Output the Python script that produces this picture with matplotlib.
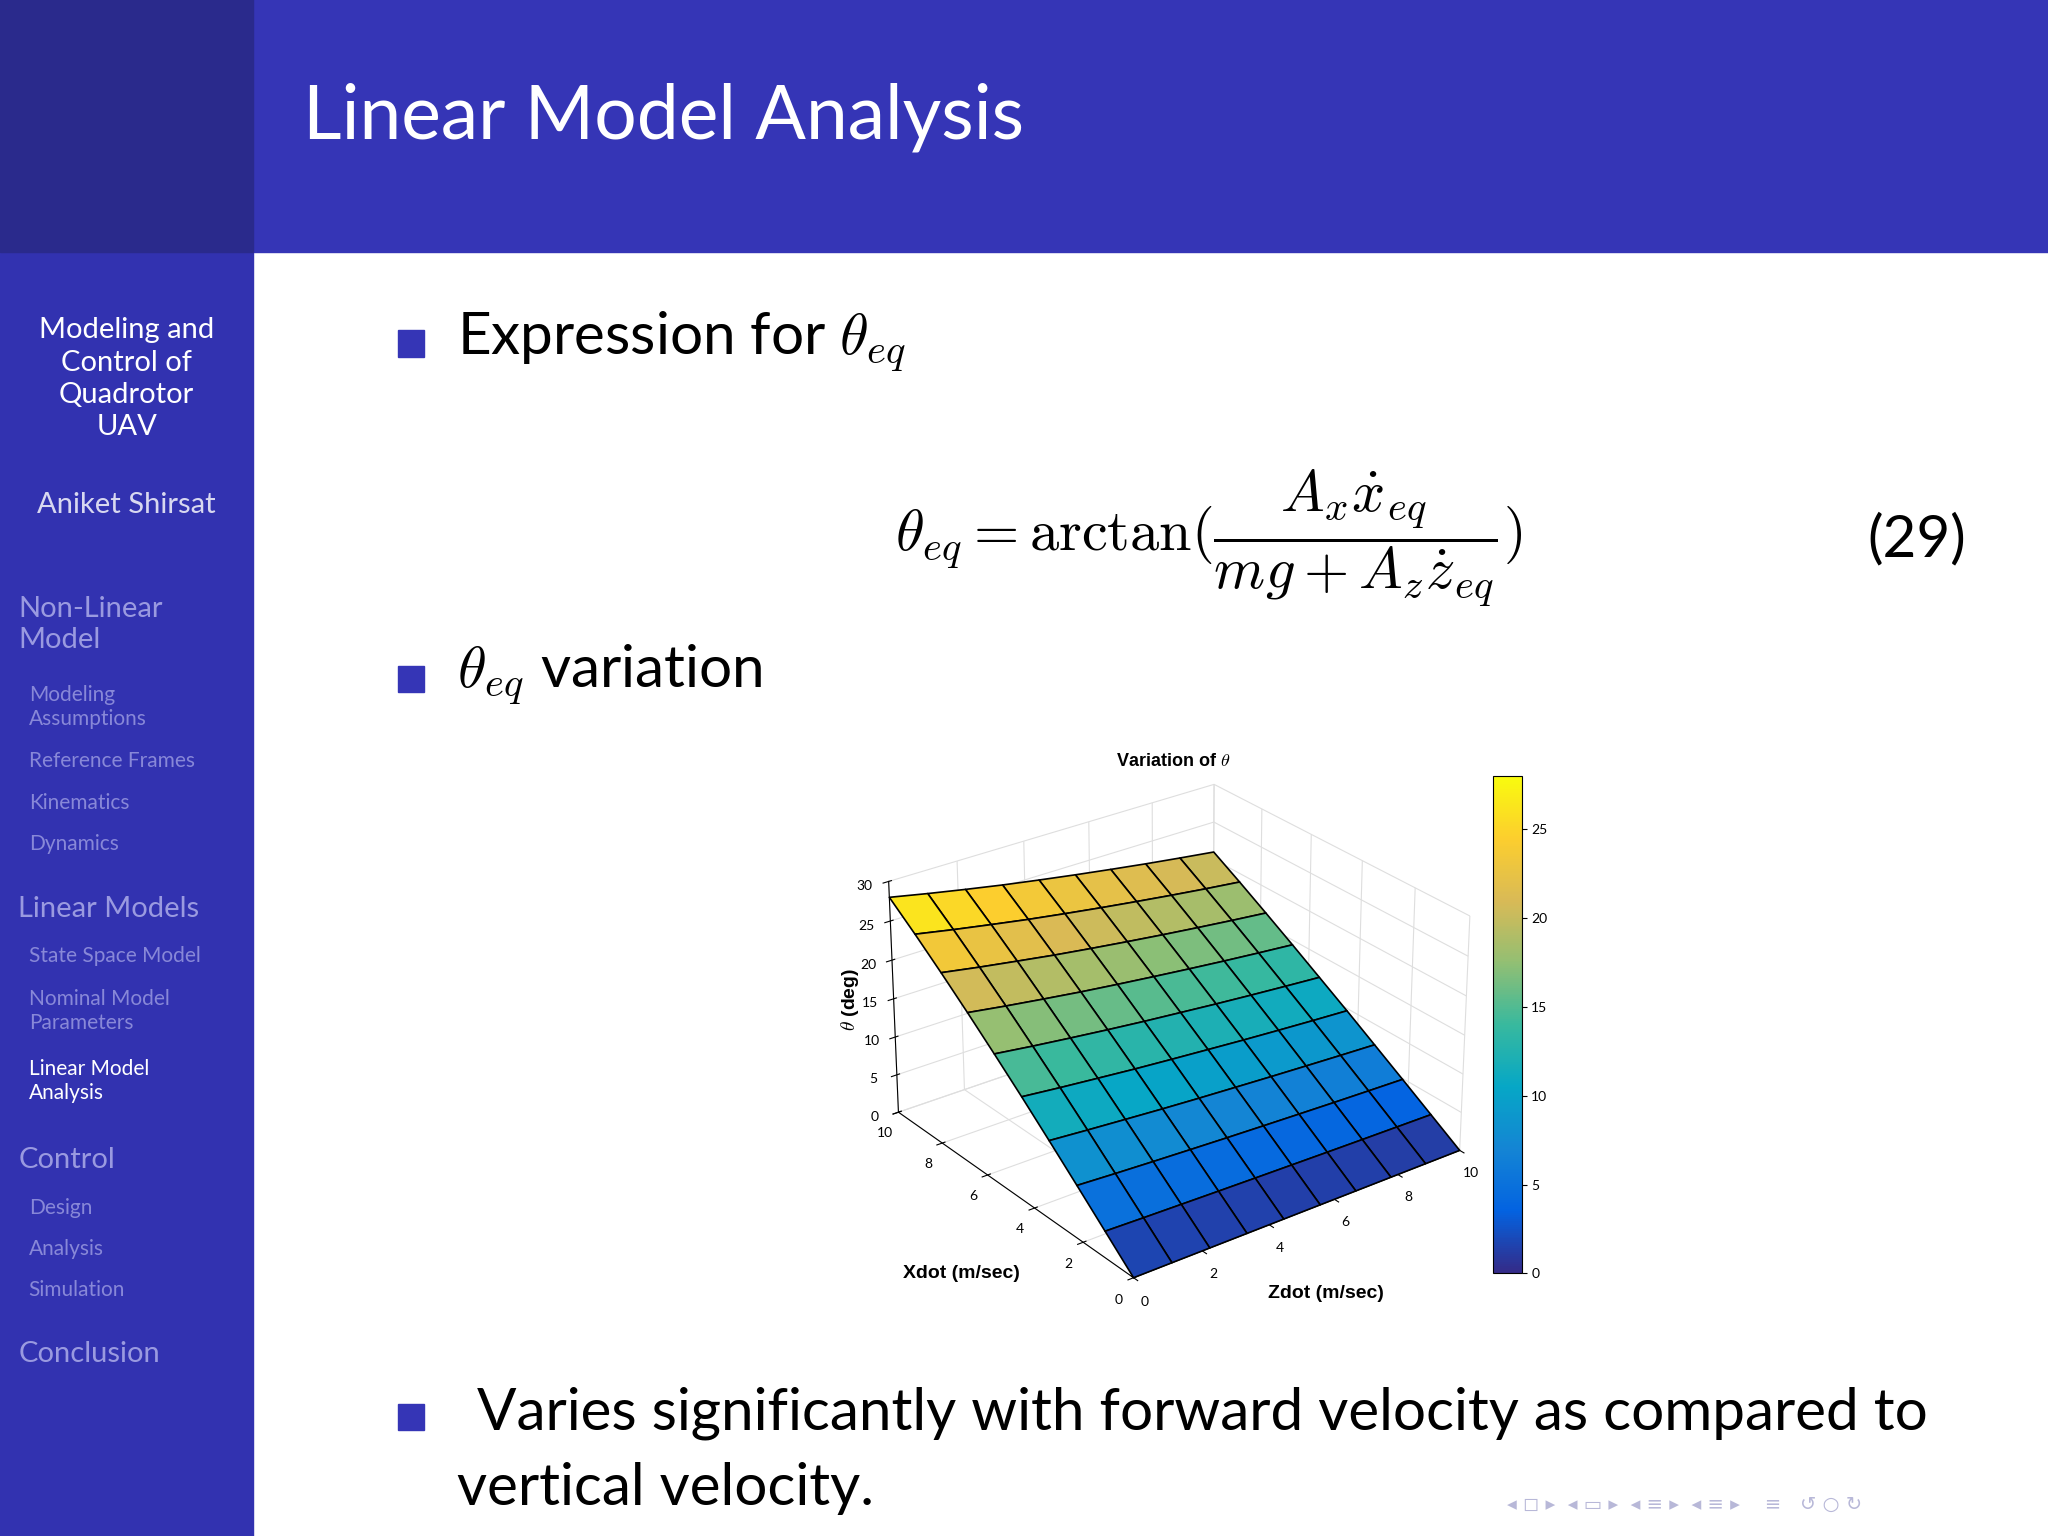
import numpy as np
import matplotlib
matplotlib.use("Agg")
import matplotlib.pyplot as plt
from matplotlib.colors import LinearSegmentedColormap
from matplotlib.patches import Rectangle

plt.rcParams['mathtext.fontset'] = 'cm'
plt.rcParams['font.family'] = ['Lato', 'DejaVu Sans']

# ---- data ----
xdot = [0, 1.11, 2.22, 3.33, 4.44, 5.56, 6.67, 7.78, 8.89, 10]
zdot = [0, 1.11, 2.22, 3.33, 4.44, 5.56, 6.67, 7.78, 8.89, 10]
theta_rows = [
    [0, 0, 0, 0, 0, 0, 0, 0, 0, 0],
    [3.38, 3.24, 3.12, 3.00, 2.89, 2.79, 2.69, 2.60, 2.52, 2.44],
    [6.74, 6.46, 6.21, 5.98, 5.76, 5.56, 5.37, 5.19, 5.03, 4.88],
    [10.05, 9.65, 9.28, 8.92, 8.60, 8.31, 8.03, 7.77, 7.52, 7.29],
    [13.30, 12.77, 12.29, 11.82, 11.41, 11.02, 10.64, 10.30, 9.98, 9.69],
    [16.47, 15.82, 15.23, 14.67, 14.15, 13.68, 13.22, 12.80, 12.41, 12.04],
    [19.53, 18.78, 18.09, 17.43, 16.84, 16.28, 15.75, 15.25, 14.79, 14.36],
    [22.48, 21.64, 20.87, 20.12, 19.45, 18.81, 18.21, 17.65, 17.12, 16.63],
    [25.31, 24.39, 23.54, 22.72, 21.98, 21.27, 20.61, 19.98, 19.39, 18.85],
    [28.00, 27.02, 26.10, 25.22, 24.42, 23.65, 22.93, 22.24, 21.60, 20.99],
]
sidebar_main = ["Modeling and\nControl of\nQuadrotor\nUAV", "Aniket Shirsat"]
toc = [
    ("Non-Linear\nModel", 478, 'sec'),
    ("Modeling\nAssumptions", 541, 'sub'),
    ("Reference Frames", 583, 'sub'),
    ("Kinematics", 615, 'sub'),
    ("Dynamics", 646, 'sub'),
    ("Linear Models", 696, 'sec'),
    ("State Space Model", 732, 'sub'),
    ("Nominal Model\nParameters", 774, 'sub'),
    ("Linear Model\nAnalysis", 828, 'cur'),
    ("Control", 888, 'sec'),
    ("Design", 925, 'sub'),
    ("Analysis", 956, 'sub'),
    ("Simulation", 988, 'sub'),
    ("Conclusion", 1037, 'sec'),
]

parula = LinearSegmentedColormap.from_list('parula', [
    '#352a87', '#0363e1', '#1485d4', '#06a7c6', '#38b99e',
    '#92bf73', '#d9ba56', '#fcce2e', '#f9fb0e'])

W, H = 1568.0, 1176.0
def fx(x): return x / W
def fy(y): return 1 - y / H

fig = plt.figure(figsize=(20.48, 15.36), dpi=100)
fig.patch.set_facecolor('white')

# backgrounds
fig.add_artist(Rectangle((0, 0), fx(194), 1, transform=fig.transFigure, color='#3232b0', zorder=0))
fig.add_artist(Rectangle((fx(194), fy(193)), 1, 1, transform=fig.transFigure, color='#3535b6', zorder=0))
fig.add_artist(Rectangle((0, fy(193)), fx(194), 1, transform=fig.transFigure, color='#2a2a8c', zorder=0))

fig.text(fx(232), fy(90), "Linear Model Analysis", color='white', fontsize=54, va='center', ha='left')

# sidebar
fig.text(fx(97), fy(290), sidebar_main[0], color='white', fontsize=21, ha='center', va='center', linespacing=1.3)
fig.text(fx(97), fy(387), sidebar_main[1], color='#d8d8f0', fontsize=21, ha='center', va='center')
for label, y, kind in toc:
    if kind == 'sec':
        fig.text(fx(14), fy(y), label, color='#9a9ae0', fontsize=21, ha='left', va='center', linespacing=1.25)
    elif kind == 'sub':
        fig.text(fx(22), fy(y), label, color='#8888d8', fontsize=15, ha='left', va='center', linespacing=1.25)
    else:
        fig.text(fx(22), fy(y), label, color='white', fontsize=15, ha='left', va='center', linespacing=1.25)

# bullets
for by in [263, 520, 1085]:
    fig.add_artist(Rectangle((fx(305), fy(by + 10)), fx(20), 20 / H, transform=fig.transFigure, color='#3535b6'))
fig.text(fx(350), fy(262), r"Expression for $\theta_{eq}$", fontsize=42, va='center', ha='left')
fig.text(fx(925), fy(413), r"$\theta_{eq} = \arctan(\dfrac{A_x\dot{x}_{eq}}{mg + A_z\dot{z}_{eq}})$",
         fontsize=42, va='center', ha='center')
fig.text(fx(1505), fy(413), "(29)", fontsize=42, va='center', ha='right')
fig.text(fx(350), fy(517), r"$\theta_{eq}$ variation", fontsize=42, va='center', ha='left')
fig.text(fx(365), fy(1082), "Varies significantly with forward velocity as compared to",
         fontsize=42, va='center', ha='left')
fig.text(fx(350), fy(1140), "vertical velocity.", fontsize=42, va='center', ha='left')

# 3D surface
Z, X = np.meshgrid(zdot, xdot)
T = np.array(theta_rows)
ax = fig.add_axes([fx(614), fy(1025), fx(1174) - fx(614), fy(545) - fy(1025)], projection='3d')
ax.plot_surface(Z, X, T, cmap=parula, vmin=0, vmax=28, edgecolor='black', linewidth=1.2,
                rstride=1, cstride=1, antialiased=True, shade=False)
ax.view_init(elev=27, azim=-127)
ax.set_box_aspect((1, 1, 0.64), zoom=0.98)
ax.set_xlim(0, 10); ax.set_ylim(0, 10); ax.set_zlim(0, 30)
ax.set_xticks([0, 2, 4, 6, 8, 10]); ax.set_yticks([0, 2, 4, 6, 8, 10]); ax.set_zticks([0, 5, 10, 15, 20, 25, 30])
ax.tick_params(labelsize=10, pad=2)
for a in (ax.xaxis, ax.yaxis, ax.zaxis):
    a.set_pane_color((1, 1, 1, 0))
    a._axinfo['grid']['color'] = (0.87, 0.87, 0.87, 1)
    a._axinfo['grid']['linewidth'] = 0.8
ax.set_facecolor('none')
lab = dict(fontsize=14, fontweight='bold', family='Liberation Sans', ha='center', va='center')
fig.text(fx(736), fy(975), "Xdot (m/sec)", **lab)
fig.text(fx(1015), fy(990), "Zdot (m/sec)", **lab)
fig.text(fx(651), fy(765), r"$\theta$ (deg)", rotation=90, **lab)
fig.text(fx(898), fy(583), r"Variation of $\theta$", fontsize=13, fontweight='bold', ha='center', va='center',
         family='Liberation Sans')

# colorbar
cax = fig.add_axes([fx(1143), fy(975), fx(1165) - fx(1143), fy(594) - fy(975)])
sm = plt.cm.ScalarMappable(cmap=parula, norm=plt.Normalize(0, 28))
cb = fig.colorbar(sm, cax=cax, ticks=[0, 5, 10, 15, 20, 25])
cb.ax.tick_params(labelsize=10)

# navigation symbols
fig.text(fx(1290), fy(1152), "◂ ◻ ▸  ◂ ▭ ▸  ◂ ≡ ▸  ◂ ≡ ▸    ≡   ↺ ○ ↻", color='#b8b8d8', fontsize=14,
         ha='center', va='center', family=['DejaVu Sans'])

fig.savefig("out.png", dpi=100)
